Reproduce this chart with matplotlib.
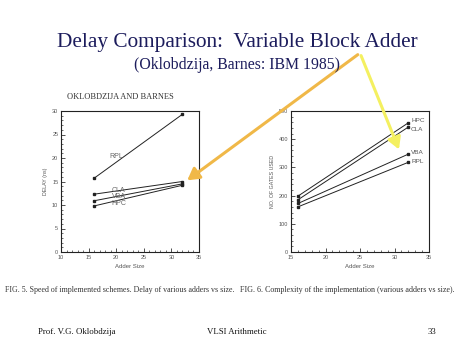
import matplotlib
matplotlib.use("Agg")
import matplotlib.pyplot as plt
from matplotlib.ticker import MultipleLocator

# Fig. 5: delay vs adder size
sizes = [16, 32]
delay_rpl = [15.7, 29.3]
delay_cla = [12.3, 15.0]
delay_vba = [10.9, 14.5]
delay_hpc = [9.8, 14.2]

# Fig. 6: gates vs adder size
gates_hpc = [198, 458]
gates_cla = [185, 443]
gates_vba = [172, 347]
gates_rpl = [160, 318]

serif = ["Liberation Serif", "DejaVu Serif"]
sans = ["Liberation Sans", "DejaVu Sans"]
ink = "#333333"

fig = plt.figure(figsize=(4.74, 3.55), dpi=100)
fig.patch.set_facecolor("white")


def style(ax):
    for sp in ax.spines.values():
        sp.set_linewidth(0.8)
        sp.set_color("#222222")
    ax.tick_params(which="both", direction="in", top=False, right=False,
                   labelsize=4, labelcolor="#555555", color="#333333", pad=2)
    ax.tick_params(which="major", length=3, width=0.6)
    ax.tick_params(which="minor", length=1.5, width=0.5)
    for lab in ax.get_xticklabels() + ax.get_yticklabels():
        lab.set_family(sans)


# left chart
ax1 = fig.add_axes([61 / 474, 1 - 252 / 355, 138 / 474, 141 / 355])
for ys in [delay_rpl, delay_cla, delay_vba, delay_hpc]:
    ax1.plot(sizes, ys, color="#222222", lw=0.7, marker="s", ms=1.8)
ax1.set_xlim(10, 35)
ax1.set_ylim(0, 30)
ax1.xaxis.set_major_locator(MultipleLocator(5))
ax1.xaxis.set_minor_locator(MultipleLocator(1))
ax1.yaxis.set_major_locator(MultipleLocator(5))
ax1.yaxis.set_minor_locator(MultipleLocator(1))
style(ax1)
ax1.set_xlabel("Adder Size", fontsize=4.3, color="#555555", family=sans, labelpad=3)
ax1.set_ylabel("DELAY (ns)", fontsize=3.8, color="#555555", family=sans, labelpad=3)
for txt, x, y in [("RPL", 18.8, 20.3), ("CLA", 19.2, 13.0), ("VBA", 19.2, 11.8), ("HPC", 19.2, 10.3)]:
    ax1.text(x, y, txt, fontsize=5, color="#666666", family=sans, va="center")
fig.text(120 / 474, 1 - 97 / 355, "OKLOBDZIJA AND BARNES", fontsize=6,
         family=serif, color=ink, ha="center", va="center")

# right chart
ax2 = fig.add_axes([291 / 474, 1 - 252 / 355, 138 / 474, 141 / 355])
for ys, name, dy in [(gates_hpc, "HPC", 10), (gates_cla, "CLA", -7),
                     (gates_vba, "VBA", 6), (gates_rpl, "RPL", 4)]:
    ax2.plot(sizes, ys, color="#222222", lw=0.7, marker="s", ms=1.8)
    ax2.text(32.4, ys[1] + dy, name, fontsize=4.6, color="#555555", family=sans, va="center")
ax2.set_xlim(15, 35)
ax2.set_ylim(0, 500)
ax2.xaxis.set_major_locator(MultipleLocator(5))
ax2.xaxis.set_minor_locator(MultipleLocator(1))
ax2.yaxis.set_major_locator(MultipleLocator(100))
ax2.yaxis.set_minor_locator(MultipleLocator(20))
style(ax2)
ax2.set_xlabel("Adder Size", fontsize=4.3, color="#555555", family=sans, labelpad=3)
ax2.set_ylabel("NO. OF GATES USED", fontsize=3.8, color="#555555", family=sans, labelpad=3)

# slide title
fig.text(237 / 474, 1 - 43 / 355, "Delay Comparison:  Variable Block Adder",
         fontsize=15.3, family=serif, color="#1c1c5c", ha="center", va="center")
fig.text(237 / 474, 1 - 65 / 355, "(Oklobdzija, Barnes: IBM 1985)",
         fontsize=11.3, family=serif, color="#1c1c5c", ha="center", va="center")

# captions
fig.text(5 / 474, 1 - 290 / 355,
         "FIG. 5. Speed of implemented schemes. Delay of various adders vs size.",
         fontsize=5.7, family=serif, color=ink, ha="left", va="center")
fig.text(240 / 474, 1 - 290 / 355,
         "FIG. 6. Complexity of the implementation (various adders vs size).",
         fontsize=5.8, family=serif, color=ink, ha="left", va="center")

# footer
fig.text(38 / 474, 1 - 332 / 355, "Prof. V.G. Oklobdzija", fontsize=6.3,
         family=serif, color="#111111", ha="left", va="center")
fig.text(237 / 474, 1 - 332 / 355, "VLSI Arithmetic", fontsize=6.3,
         family=serif, color="#111111", ha="center", va="center")
fig.text(436 / 474, 1 - 332 / 355, "33", fontsize=6.3,
         family=serif, color="#111111", ha="right", va="center")

# arrows
start = (360 / 474, 1 - 53 / 355)
fig.add_artist(matplotlib.patches.FancyArrowPatch(
    start, (185 / 474, 1 - 182 / 355), transform=fig.transFigure,
    arrowstyle="-|>,head_length=7,head_width=4", color="#f0b848", lw=2.2))
fig.add_artist(matplotlib.patches.FancyArrowPatch(
    start, (400 / 474, 1 - 152 / 355), transform=fig.transFigure,
    arrowstyle="-|>,head_length=7,head_width=4", color="#f4f060", lw=2.2))

fig.savefig("out.png", dpi=100)
